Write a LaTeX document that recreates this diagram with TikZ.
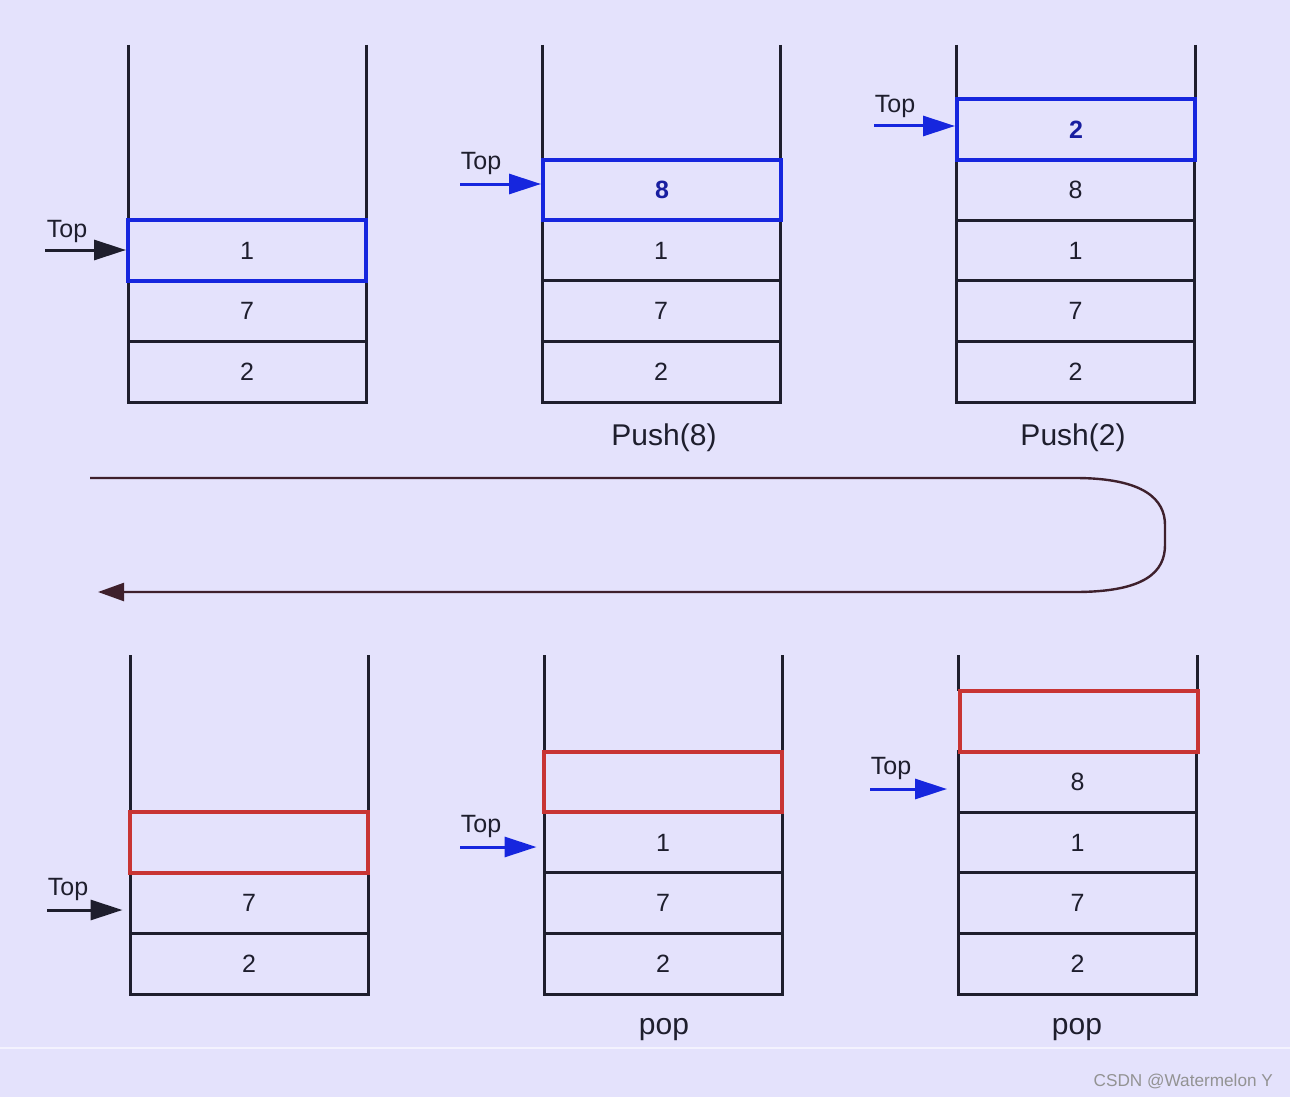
\documentclass[tikz,border=0pt]{standalone}
\usepackage{fontspec}
\setmainfont{Liberation Sans}
\usetikzlibrary{arrows.meta}
\definecolor{bgpurple}{RGB}{228,226,252}
\definecolor{pushblue}{RGB}{22,38,222}
\definecolor{pushtext}{RGB}{24,30,160}
\definecolor{popred}{RGB}{200,52,52}
\definecolor{inkdark}{RGB}{30,30,45}
\definecolor{loopbrown}{RGB}{62,32,44}

\begin{document}
\begin{tikzpicture}
[
  x=0.5pt, y=-0.5pt,
  cell/.style={draw=inkdark,line width=1.5pt,minimum width=119pt,minimum height=30.3pt,inner sep=0pt,text=inkdark,font=\fontsize{12.5}{14}\selectfont},
  topcell/.style={cell,draw=pushblue,line width=2pt},
  pushcell/.style={topcell,text=pushtext,font=\fontsize{12.5}{14}\selectfont\bfseries},
  popcell/.style={cell,draw=popred,line width=2pt},
  wall/.style={draw=inkdark,line width=1.5pt},
  toplbl/.style={text=inkdark,font=\fontsize{12.5}{14}\selectfont},
  oplbl/.style={text=inkdark,font=\fontsize{15}{18}\selectfont},
  blackptr/.style={-{Triangle[length=16pt,width=10pt]},line width=1.5pt,draw=inkdark},
  blueptr/.style={blackptr,draw=pushblue}
]

\useasboundingbox (0,0) rectangle (1290,1097);
\fill[bgpurple] (-4,-4) rectangle (1294,1101);
\draw[white!55!bgpurple,line width=1pt] (0,1048) -- (1290,1048);
\node[anchor=east,text=gray!85,font=\fontsize{8.6}{11}\selectfont] (mark) at (1280,1081) {CSDN @Watermelon Y};

% top row
\draw[wall] (128,45) -- (128,221);
\draw[wall] (366,45) -- (366,221);
\node[cell] (s1c2) at (247,371.7) {2};
\node[cell] (s1c7) at (247,311.1) {7};
\node[topcell] (s1c1) at (247,250.5) {1};

\draw[wall] (542,45) -- (542,160);
\draw[wall] (780,45) -- (780,160);
\node[cell] (s2c2) at (661,371.7) {2};
\node[cell] (s2c7) at (661,311.1) {7};
\node[cell] (s2c1) at (661,250.5) {1};
\node[pushcell] (s2c8) at (662,189.9) {8};
\node[oplbl] (push8) at (664,438) {Push(8)};

\draw[wall] (956,45) -- (956,99);
\draw[wall] (1195,45) -- (1195,99);
\node[cell] (s3c2) at (1075.5,371.7) {2};
\node[cell] (s3c7) at (1075.5,311.1) {7};
\node[cell] (s3c1) at (1075.5,250.5) {1};
\node[cell] (s3c8) at (1075.5,189.9) {8};
\node[pushcell] (s3c2b) at (1076,129.3) {2};
\node[oplbl] (push2) at (1073,438) {Push(2)};

\node[toplbl] (top1) at (67,231) {Top};
\coordinate (a1) at (45,250);
\draw[blackptr] (a1) -- (a1 -| s1c1.west);
\node[toplbl] (top2) at (481,163) {Top};
\coordinate (a2) at (460,184);
\draw[blueptr] (a2) -- (a2 -| s2c8.west);
\node[toplbl] (top3) at (895,106) {Top};
\coordinate (a3) at (874,126);
\draw[blueptr] (a3) -- (a3 -| s3c2b.west);

% turn-around
\coordinate (loopstart) at (90,478);
\coordinate (loopend) at (98,592);
\draw[loopbrown,line width=1.2pt,-{Triangle[length=13pt,width=9pt]}]
  (loopstart) -- (1075,478) .. controls (1145,478) and (1165,500) .. (1165,525)
  -- (1165,545) .. controls (1165,572) and (1145,592) .. (1075,592) -- (loopend);

% bottom row
\draw[wall] (130,655) -- (130,812);
\draw[wall] (368,655) -- (368,812);
\node[cell] (s4c2) at (249,963.7) {2};
\node[cell] (s4c7) at (249,903.1) {7};
\node[popcell] (s4e) at (249,842.5) {};

\draw[wall] (544,655) -- (544,751);
\draw[wall] (782,655) -- (782,751);
\node[cell] (s5c2) at (663,963.7) {2};
\node[cell] (s5c7) at (663,903.1) {7};
\node[cell] (s5c1) at (663,842.5) {1};
\node[popcell] (s5e) at (663,781.9) {};
\node[oplbl] (pop1) at (664,1030) {pop};

\draw[wall] (958,655) -- (958,691);
\draw[wall] (1197,655) -- (1197,691);
\node[cell] (s6c2) at (1077.5,963.7) {2};
\node[cell] (s6c7) at (1077.5,903.1) {7};
\node[cell] (s6c1) at (1077.5,842.5) {1};
\node[cell] (s6c8) at (1077.5,781.9) {8};
\node[popcell] (s6e) at (1079,721.3) {};
\node[oplbl] (pop2) at (1077,1030) {pop};

\node[toplbl] (top4) at (68,889) {Top};
\coordinate (a4) at (47,910);
\draw[blackptr,shorten >=3pt] (a4) -- (a4 -| s4c7.west);
\node[toplbl] (top5) at (481,826) {Top};
\coordinate (a5) at (460,847);
\draw[blueptr,shorten >=3pt] (a5) -- (a5 -| s5c1.west);
\node[toplbl] (top6) at (891,768) {Top};
\coordinate (a6) at (870,789);
\draw[blueptr,shorten >=5pt] (a6) -- (a6 -| s6c8.west);
\end{tikzpicture}
\end{document}
